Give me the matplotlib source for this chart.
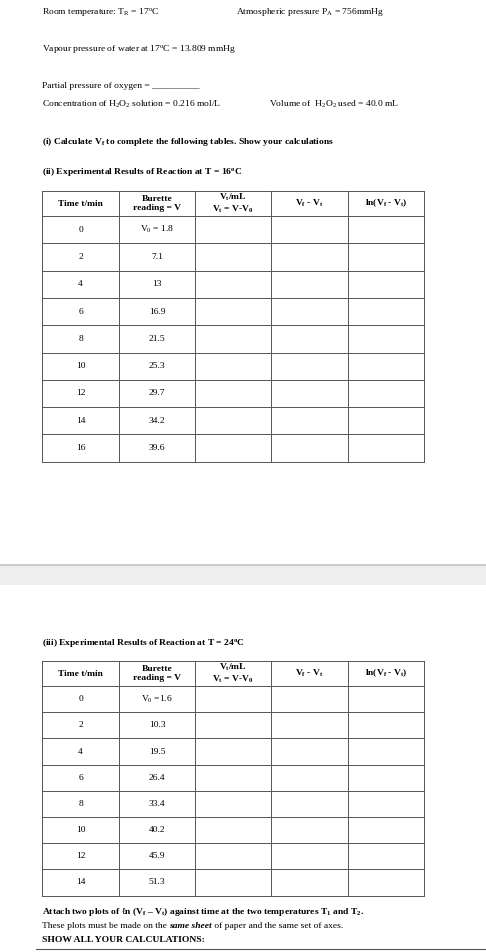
import matplotlib.pyplot as plt
from matplotlib.patches import Rectangle

plt.rcParams['font.family'] = ['Liberation Serif', 'DejaVu Serif']
plt.rcParams['mathtext.fontset'] = 'stix'
plt.rcParams['mathtext.default'] = 'regular'

# Table data
headers = ['Time t/min', 'Burette\nreading = V', r'V$_t$/mL' + '\n' + r'V$_t$ = V-V$_0$',
           r'V$_f$ - V$_t$', r'ln(V$_f$ - V$_t$)']
times1 = ['0', '2', '4', '6', '8', '10', '12', '14', '16']
readings1 = [r'V$_0$ = 1.8', '7.1', '13', '16.9', '21.5', '25.3', '29.7', '34.2', '39.6']
times2 = ['0', '2', '4', '6', '8', '10', '12', '14']
readings2 = [r'V$_0$ =1.6', '10.3', '19.5', '26.4', '33.4', '40.2', '45.9', '51.3']

fig = plt.figure(figsize=(4.86, 9.52), dpi=100)
ax = fig.add_axes([0, 0, 1, 1])
ax.set_xlim(0, 486)
ax.set_ylim(952, 0)
ax.axis('off')

fs = 6.8
cols = [42, 119, 195, 271, 348, 424]


def table(top, head_h, row_h, times, readings):
    n = len(times)
    bottom = top + head_h + n * row_h
    for x in cols:
        ax.plot([x, x], [top, bottom], color='#555555', lw=0.7)
    ys = [top, top + head_h] + [top + head_h + (i + 1) * row_h for i in range(n)]
    for y in ys:
        ax.plot([cols[0], cols[-1]], [y, y], color='#555555', lw=0.7)
    for j, h in enumerate(headers):
        ax.text((cols[j] + cols[j + 1]) / 2, top + head_h / 2, h, ha='center', va='center',
                fontsize=fs, fontweight='bold', linespacing=1.1)
    for i, (t, r) in enumerate(zip(times, readings)):
        yc = top + head_h + (i + 0.5) * row_h
        ax.text((cols[0] + cols[1]) / 2, yc, t, ha='center', va='center', fontsize=fs)
        ax.text((cols[1] + cols[2]) / 2, yc, r, ha='center', va='center', fontsize=fs)


def line(x, y, s, bold=False, **kw):
    return ax.text(x, y, s, ha='left', va='center', fontsize=fs,
                   fontweight='bold' if bold else 'normal', **kw)


line(42, 12, r'Room temperature: T$_R$ = 17$^o$C')
line(236, 12, r'Atmospheric pressure P$_A$ = 756mmHg')
line(42, 49, r'Vapour pressure of water at 17$^o$C = 13.809 mmHg')
line(42, 86, 'Partial pressure of oxygen = __________')
line(42, 104, r'Concentration of H$_2$O$_2$ solution = 0.216 mol/L')
line(269, 104, r'Volume of  H$_2$O$_2$ used = 40.0 mL')
line(42, 142, r'(i) Calculate V$_f$ to complete the following tables. Show your calculations', bold=True)
line(42, 172, r'(ii) Experimental Results of Reaction at T = 16$^o$C', bold=True)
table(191, 25, 27.3, times1, readings1)

# gray page separator
ax.add_patch(Rectangle((0, 565), 486, 20, color='#eeeeef', lw=0))
ax.plot([0, 486], [565, 565], color='#cccccc', lw=1.5)

line(42, 643, r'(iii) Experimental Results of Reaction at T = 24$^o$C', bold=True)
table(661, 25, 26.2, times2, readings2)

line(42, 912, r'Attach two plots of ℓn (V$_f$ – V$_t$) against time at the two temperatures T$_1$ and T$_2$.', bold=True)

# mixed-style sentence placed piece by piece
renderer = fig.canvas.get_renderer()
x = 42
for s, kw in [('These plots must be made on the ', {}),
              ('same sheet', {'style': 'italic', 'fontweight': 'bold'}),
              (' of paper and the same set of axes.', {})]:
    t = ax.text(x, 926, s, fontsize=fs, va='center', **kw)
    bb = t.get_window_extent(renderer)
    x += bb.width
line(42, 940, 'SHOW ALL YOUR CALCULATIONS:', bold=True)
ax.plot([36, 486], [949, 949], color='#555555', lw=0.8)

fig.savefig('out.png', dpi=100)
